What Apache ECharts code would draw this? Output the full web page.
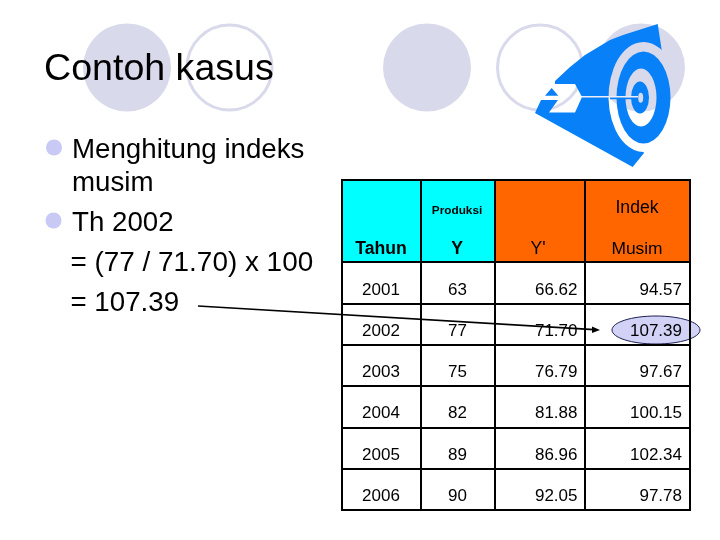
<!DOCTYPE html>
<html>
<head>
<meta charset="utf-8">
<style>html,body{margin:0;padding:0;background:#fff}#main{width:720px;height:540px}</style>
<script src="https://cdn.jsdelivr.net/npm/echarts@6/dist/echarts.min.js"></script>
</head>
<body>
<div id="main"></div>
<script>
// table values
var years = ['2001', '2002', '2003', '2004', '2005', '2006'];
var produksi = ['63', '77', '75', '82', '89', '90'];
var trend = ['66.62', '71.70', '76.79', '81.88', '86.96', '92.05'];
var indeks = ['94.57', '107.39', '97.67', '100.15', '102.34', '97.78'];

// slide text
var titleText = 'Contoh kasus';
var bulletLines = ['Menghitung indeks', 'musim', 'Th 2002', '= (77 / 71.70) x 100', '= 107.39'];

// layout of the table, px
var colX = [342, 421, 495, 585, 690];
var rowY = [262, 304, 345, 386, 428, 469, 510];
var baseY = [296, 337, 378, 419.5, 461, 502];
var FONT = '"Liberation Sans", Arial, sans-serif';
var LAV = '#d9d9ec';
var BLUE = '#0881f8';

function label(text, x, base, size, align, weight) {
  return {
    type: 'text',
    style: {
      text: text, x: x, y: base - size * 0.345,
      font: (weight || 'normal') + ' ' + size + 'px ' + FONT,
      fill: '#000', align: align || 'left', verticalAlign: 'middle'
    }
  };
}

function ell(cx, cy, rx, ry, cw) {
  var s = cw ? 1 : 0;
  return 'M' + (cx - rx) + ' ' + cy +
    'A' + rx + ' ' + ry + ' 0 1 ' + s + ' ' + (cx + rx) + ' ' + cy +
    'A' + rx + ' ' + ry + ' 0 1 ' + s + ' ' + (cx - rx) + ' ' + cy + 'Z';
}

// the two M at the start pin the bounding box so the path keeps page coordinates
var PIN = 'M0 0M720 540';
var fanPath = PIN + 'M535 113L541 100L558 100L549 112.5L575 112.5L582 97L575 84L555 84L555 81' +
  'L570 67L585 55L610 40L623 35L657.7 24L661.7 50A35 55 0 1 0 643.5 152L644 153L632.7 167Z' +
  'M551.7 88L558.3 95.7L545 95.7Z';
var lobePath = PIN + ell(643.5, 97.5, 27, 46, true) + ell(641, 97.5, 15.5, 29, false) +
  ell(640, 97.5, 9, 16, true) + ell(640.7, 97.7, 2.5, 5, false);

function circle(cx, fill) {
  return {
    type: 'circle',
    shape: { cx: cx, cy: 67.5, r: fill ? 44 : 42.5 },
    style: fill ? { fill: LAV } : { fill: 'none', stroke: LAV, lineWidth: 3 }
  };
}

function seg(x1, x2, y, color, w) {
  return { type: 'line', shape: { x1: x1, y1: y, x2: x2, y2: y }, style: { stroke: color, lineWidth: w } };
}

function dot(cx, cy) {
  return { type: 'circle', shape: { cx: cx, cy: cy, r: 8 }, style: { fill: '#c9c9f5' } };
}

function iconPath(d) {
  return { type: 'path', shape: { pathData: d, x: 0, y: 0, width: 720, height: 540, layout: 'cover' }, style: { fill: BLUE } };
}

function renderSlide(params, api) {
  if (params.dataIndex > 0) return { type: 'group', children: [] };
  var kids = [
    circle(127, true), circle(229.5, false), circle(427, true), circle(540, false), circle(641, true),
    iconPath(fanPath), iconPath(lobePath),
    seg(610, 632, 98.2, BLUE, 2),
    seg(581, 638, 96.8, '#eeeef8', 1.5),
    dot(54, 147.5), dot(53.5, 220.5),
    label(titleText, 44, 83, 37.6),
    label(bulletLines[0], 72, 159.5, 27.7),
    label(bulletLines[1], 72, 192.5, 27.7),
    label(bulletLines[2], 72, 232.5, 27.7),
    label(bulletLines[3], 70.5, 272.5, 27.9),
    label(bulletLines[4], 70.5, 312.5, 27.7)
  ];
  // header fills
  kids.push({ type: 'rect', shape: { x: colX[0], y: 180, width: colX[2] - colX[0], height: 82 }, style: { fill: '#00ffff' } });
  kids.push({ type: 'rect', shape: { x: colX[2], y: 180, width: colX[4] - colX[2], height: 82 }, style: { fill: '#ff6600' } });
  // highlighted index
  kids.push({
    type: 'ellipse',
    shape: { cx: 656, cy: 330, rx: 44, ry: 14 },
    style: { fill: '#d2d2f6', stroke: '#1c2050', lineWidth: 1 }
  });
  // grid
  [180].concat(rowY).forEach(function (y) {
    kids.push({ type: 'line', shape: { x1: colX[0] - 1, y1: y, x2: colX[4] + 1, y2: y }, style: { stroke: '#000', lineWidth: 2 } });
  });
  colX.forEach(function (x) {
    kids.push({ type: 'line', shape: { x1: x, y1: 180, x2: x, y2: 510 }, style: { stroke: '#000', lineWidth: 2 } });
  });
  // header text
  kids.push(label('Produksi', 457, 215, 11.8, 'center', 'bold'));
  kids.push(label('Indek', 637, 214, 17.6, 'center'));
  kids.push(label('Tahun', 381, 255, 17.6, 'center', 'bold'));
  kids.push(label('Y', 457, 255, 17.6, 'center', 'bold'));
  kids.push(label("Y'", 538, 255, 17.6, 'center'));
  kids.push(label('Musim', 637, 255, 17.4, 'center'));
  // body text
  years.forEach(function (yr, i) {
    kids.push(label(yr, 381, baseY[i], 17, 'center'));
    kids.push(label(produksi[i], 457.5, baseY[i], 17, 'center'));
    kids.push(label(trend[i], 577.5, baseY[i], 17, 'right'));
    kids.push(label(indeks[i], 682, baseY[i], 17, 'right'));
  });
  // arrow from the text to the table
  kids.push({ type: 'line', shape: { x1: 198, y1: 306, x2: 594, y2: 329.6 }, style: { stroke: '#000', lineWidth: 1.7 } });
  kids.push({ type: 'polygon', shape: { points: [[600, 330], [592, 326.5], [592, 333]] }, style: { fill: '#000' } });
  return { type: 'group', children: kids };
}

var chart = echarts.init(document.getElementById('main'), null, { renderer: 'canvas' });
chart.setOption({
  backgroundColor: '#fff',
  animation: false,
  series: [{
    type: 'custom',
    coordinateSystem: 'none',
    silent: true,
    clip: false,
    data: years.map(function (y, i) { return [i]; }),
    renderItem: renderSlide
  }]
});
</script>
</body>
</html>
